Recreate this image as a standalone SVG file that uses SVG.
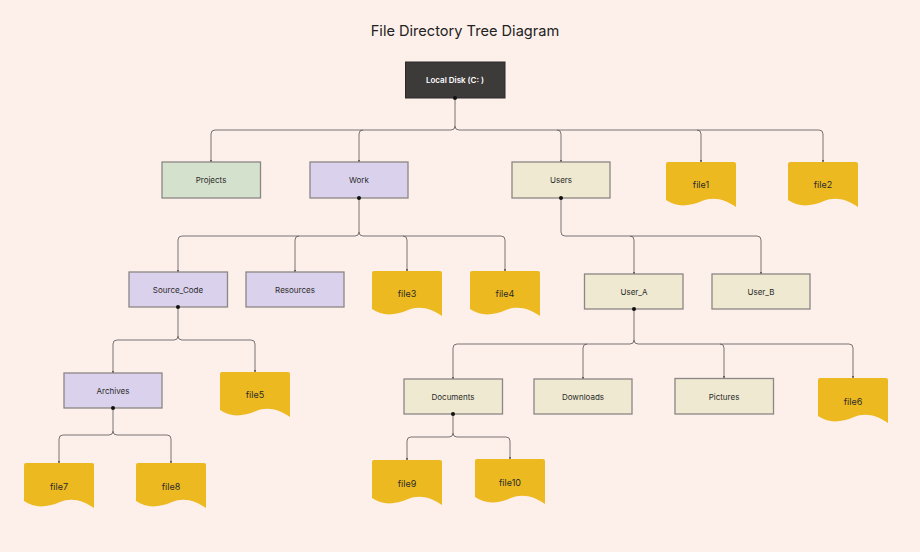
<svg xmlns="http://www.w3.org/2000/svg" width="920" height="552" viewBox="0 0 920 552">
<defs>
<pattern id="grid" width="16" height="16" patternUnits="userSpaceOnUse"><circle cx="8" cy="8" r="0.7" fill="#f3e2dc"/></pattern>
<marker id="arr" viewBox="0 0 6 6" refX="5" refY="3" markerWidth="2.5" markerHeight="2.5" orient="auto"><path d="M0,0 L6,3 L0,6 Z" fill="#4a4444"/></marker>
<path id="doc" d="M0,2 Q0,0 2,0 H68 Q70,0 70,2 V45 C60,38 48,34 36,39 C22,45 10,45 0,38 Z"/>
</defs>
<style>
.bg{fill:#fdf0eb}
.box{stroke:#8c8684;stroke-width:1.3}
.g{fill:#d4e1cc}.p{fill:#dad1ec}.b{fill:#eee9d0}
.f{fill:#edb920}
.t{font-family:Inter,"Liberation Sans",sans-serif;font-size:8px;fill:#2b2b2b;text-anchor:middle;dominant-baseline:central}
.tf{font-family:Inter,"Liberation Sans",sans-serif;font-size:9px;fill:#2b2b2b;text-anchor:middle;dominant-baseline:central}
.c path{fill:none;stroke:#6a6262;stroke-width:0.9;marker-end:url(#arr)}
.c path.tr{marker-end:none}
</style>
<rect class="bg" width="920" height="552"/>
<rect fill="url(#grid)" width="920" height="552"/>
<text x="465" y="31" font-family="Inter,'Liberation Sans',sans-serif" font-size="14.6" fill="#222" text-anchor="middle" dominant-baseline="central">File Directory Tree Diagram</text>

<g class="c" id="connectors">
<path class="tr" d="M455,98 V126"/>
<path d="M455,126 Q455,130 451,130 H215 Q211,130 211,134 V162"/>
<path d="M363,130 Q359,130 359,134 V162"/>
<path d="M455,126 Q455,130 459,130 H819 Q823,130 823,134 V162"/>
<path d="M557,130 Q561,130 561,134 V162"/>
<path d="M697,130 Q701,130 701,134 V162"/>

<path class="tr" d="M359,198 V232"/>
<path d="M359,232 Q359,236 355,236 H182 Q178,236 178,240 V272"/>
<path d="M299,236 Q295,236 295,240 V272"/>
<path d="M359,232 Q359,236 363,236 H501 Q505,236 505,240 V271"/>
<path d="M403,236 Q407,236 407,240 V271"/>

<path d="M561,198 V232 Q561,236 565,236 H630 Q634,236 634,240 V274"/>
<path d="M630,236 H757 Q761,236 761,240 V274"/>

<path class="tr" d="M178,307 V336"/>
<path d="M178,336 Q178,340 174,340 H117 Q113,340 113,344 V373"/>
<path d="M178,336 Q178,340 182,340 H251 Q255,340 255,344 V372"/>

<path class="tr" d="M113,408 V431"/>
<path d="M113,431 Q113,435 109,435 H63 Q59,435 59,439 V463"/>
<path d="M113,431 Q113,435 117,435 H167 Q171,435 171,439 V463"/>

<path class="tr" d="M634,309 V340"/>
<path d="M634,340 Q634,344 630,344 H457 Q453,344 453,348 V379"/>
<path d="M587,344 Q583,344 583,348 V379"/>
<path d="M634,340 Q634,344 638,344 H849 Q853,344 853,348 V378"/>
<path d="M720,344 Q724,344 724,348 V378"/>

<path class="tr" d="M453,414 V433"/>
<path d="M453,433 Q453,437 449,437 H411 Q407,437 407,441 V460"/>
<path d="M453,433 Q453,437 457,437 H506 Q510,437 510,441 V459"/>
</g>

<g id="root"><rect x="405.5" y="62" width="99.5" height="36" fill="#3d3a3a" stroke="#2a2828" stroke-width="1"/><text class="t" x="455" y="80" style="fill:#fff;font-weight:600">Local Disk (C: )</text></g>

<g id="projects"><rect class="box g" x="162" y="162" width="98.5" height="36"/><text class="t" x="211" y="180">Projects</text></g>
<g id="work"><rect class="box p" x="310" y="162" width="98" height="36"/><text class="t" x="359" y="180">Work</text></g>
<g id="users"><rect class="box b" x="512" y="162" width="98" height="36"/><text class="t" x="561" y="180">Users</text></g>
<g id="file1"><use href="#doc" class="f" x="666" y="162"/><text class="tf" x="701" y="184">file1</text></g>
<g id="file2"><use href="#doc" class="f" x="788" y="162"/><text class="tf" x="823" y="184">file2</text></g>

<g id="source_code"><rect class="box p" x="129" y="272" width="98.5" height="35"/><text class="t" x="178" y="289.5">Source_Code</text></g>
<g id="resources"><rect class="box p" x="246" y="272" width="98" height="35"/><text class="t" x="295" y="289.5">Resources</text></g>
<g id="file3"><use href="#doc" class="f" x="372" y="271"/><text class="tf" x="407" y="293">file3</text></g>
<g id="file4"><use href="#doc" class="f" x="470" y="271"/><text class="tf" x="505" y="293">file4</text></g>

<g id="user_a"><rect class="box b" x="584.5" y="274" width="98.5" height="35"/><text class="t" x="634" y="291.5">User_A</text></g>
<g id="user_b"><rect class="box b" x="712" y="274" width="98" height="35"/><text class="t" x="761" y="291.5">User_B</text></g>

<g id="archives"><rect class="box p" x="64" y="373" width="98" height="35"/><text class="t" x="113" y="390.5">Archives</text></g>
<g id="file5"><use href="#doc" class="f" x="220" y="372"/><text class="tf" x="255" y="394">file5</text></g>

<g id="file7"><use href="#doc" class="f" x="24" y="463"/><text class="tf" x="59" y="486">file7</text></g>
<g id="file8"><use href="#doc" class="f" x="136" y="463"/><text class="tf" x="171" y="486">file8</text></g>

<g id="documents"><rect class="box b" x="404" y="379" width="98.5" height="35"/><text class="t" x="453" y="396.5">Documents</text></g>
<g id="downloads"><rect class="box b" x="534" y="379" width="98" height="35"/><text class="t" x="583" y="396.5">Downloads</text></g>
<g id="pictures"><rect class="box b" x="675" y="378.5" width="98.5" height="35.5"/><text class="t" x="724" y="396.5">Pictures</text></g>
<g id="file6"><use href="#doc" class="f" x="818" y="378"/><text class="tf" x="853" y="401">file6</text></g>

<g id="file9"><use href="#doc" class="f" x="372" y="460"/><text class="tf" x="407" y="483">file9</text></g>
<g id="file10"><use href="#doc" class="f" x="475" y="459"/><text class="tf" x="510" y="482">file10</text></g>

<g id="dots" fill="#111">
<circle cx="455" cy="98" r="2"/><circle cx="359" cy="198" r="2"/><circle cx="561" cy="198" r="2"/>
<circle cx="178" cy="307" r="2"/><circle cx="113" cy="408" r="2"/><circle cx="634" cy="309" r="2"/><circle cx="453" cy="414" r="2"/>
</g>
</svg>
